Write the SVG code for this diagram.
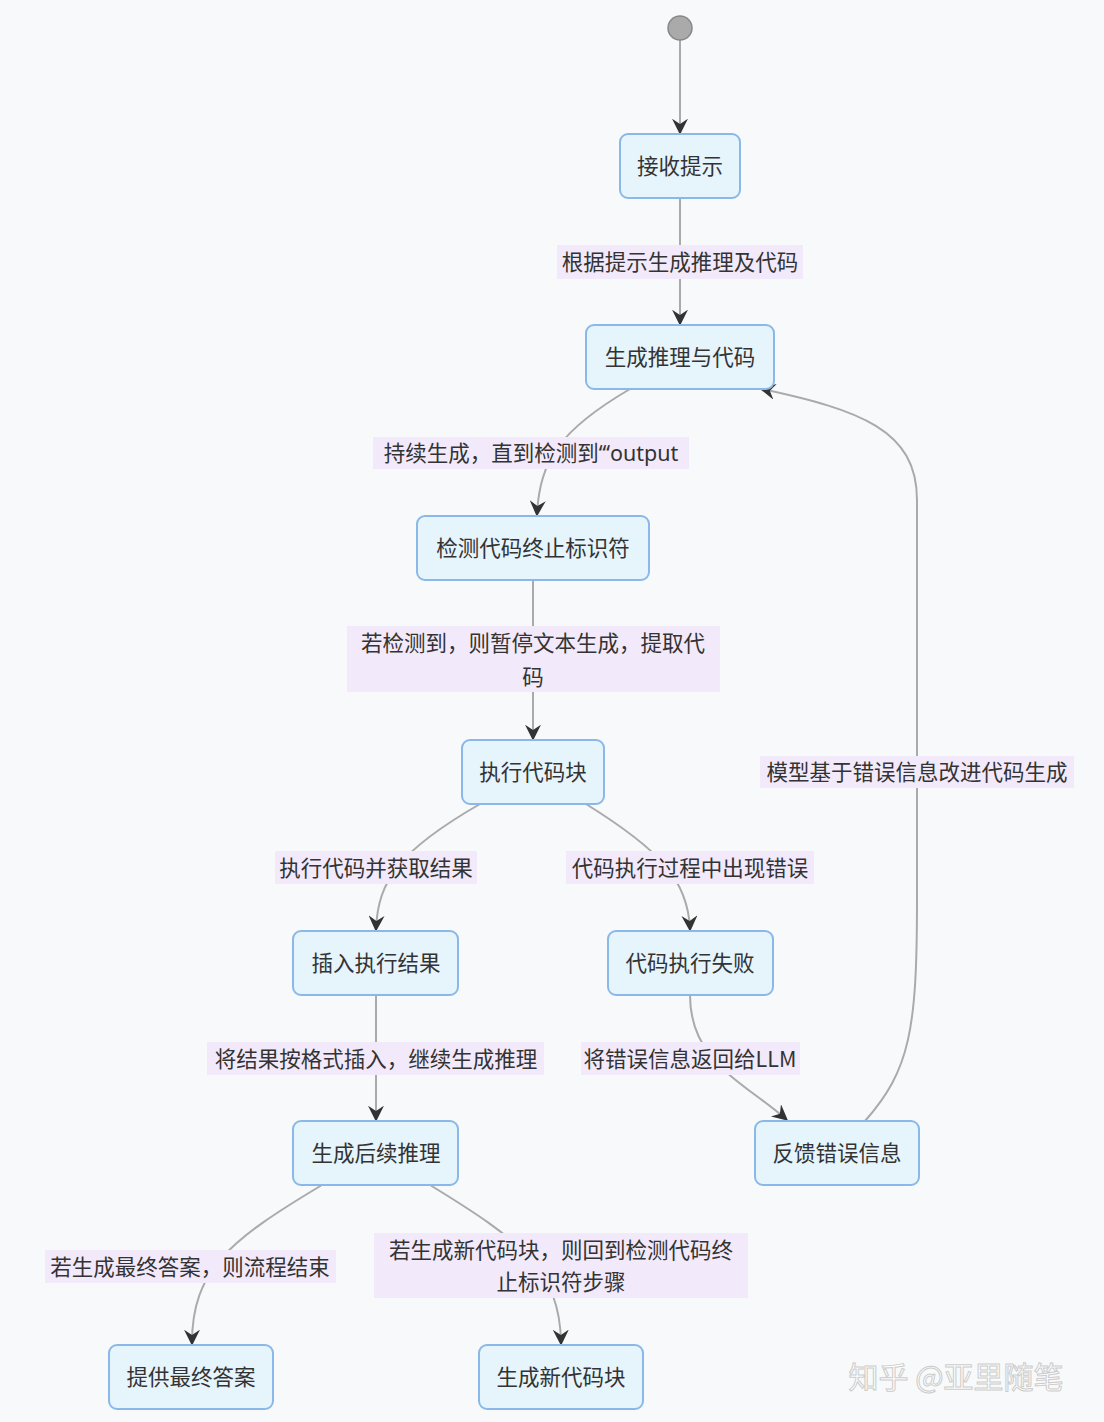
<svg xmlns="http://www.w3.org/2000/svg" width="1104" height="1422" viewBox="0 0 1104 1422">
<defs>
<style>
.n rect{fill:#e6f4fc;stroke:#8ab8e8;stroke-width:2}
text{font-family:"Noto Sans CJK SC","Noto Sans",sans-serif;font-size:21.5px;fill:#333;text-anchor:middle}
.lb{fill:#f2eafa}
.e{fill:none;stroke:#aaa;stroke-width:2;marker-end:url(#a)}
</style>
<marker id="a" viewBox="0 0 12 12" refX="10" refY="6" markerWidth="16" markerHeight="16" orient="auto" markerUnits="userSpaceOnUse"><path d="M0,0 L12,6 L0,12 L4,6 Z" fill="#333"/></marker>
</defs>
<rect width="1104" height="1422" fill="#f8f9fa"/>
<g id="edges">
<path class="e" d="M680,40 V132"/>
<path class="e" d="M680,198 V323"/>
<path class="e" d="M630,389 C560,430 540,460 537,514"/>
<path class="e" d="M533,580 V738"/>
<path class="e" d="M480,804 C400,850 378,880 376,929"/>
<path class="e" d="M586,804 C660,850 688,880 690,929"/>
<path class="e" d="M376,995 V1119"/>
<path class="e" d="M690,995 C690,1060 740,1080 786,1119"/>
<path class="e" d="M865,1121 C910,1070 917,1030 917,900 V500 C917,430 860,410 762,389"/>
<path class="e" d="M322,1185 C230,1240 192,1270 192,1343"/>
<path class="e" d="M430,1185 C520,1240 560,1270 561,1343"/>
</g>
<g id="labels">
<rect class="lb" x="557" y="245" width="246" height="34"/><text x="680" y="270">根据提示生成推理及代码</text>
<rect class="lb" x="373" y="437" width="316" height="32"/><text x="531" y="461">持续生成，直到检测到<tspan style="font-family:'Noto Sans',sans-serif">‘‘‘output</tspan></text>
<rect class="lb" x="347" y="626" width="373" height="66"/><text x="533" y="651">若检测到，则暂停文本生成，提取代</text><text x="533" y="685">码</text>
<rect class="lb" x="760" y="756" width="314" height="32"/><text x="917" y="780">模型基于错误信息改进代码生成</text>
<rect class="lb" x="275" y="851" width="202" height="33"/><text x="376" y="876">执行代码并获取结果</text>
<rect class="lb" x="566" y="851" width="248" height="33"/><text x="690" y="876">代码执行过程中出现错误</text>
<rect class="lb" x="207" y="1042" width="337" height="33"/><text x="376" y="1067">将结果按格式插入，继续生成推理</text>
<rect class="lb" x="581" y="1042" width="219" height="33"/><text x="690" y="1067">将错误信息返回给LLM</text>
<rect class="lb" x="45" y="1250" width="291" height="33"/><text x="190" y="1275">若生成最终答案，则流程结束</text>
<rect class="lb" x="374" y="1233" width="374" height="65"/><text x="561" y="1258">若生成新代码块，则回到检测代码终</text><text x="561" y="1290">止标识符步骤</text>
</g>
<g id="start"><circle cx="680" cy="28" r="12" fill="#aaa" stroke="#888" stroke-width="1.5"/></g>
<g id="n1" class="n"><rect x="620" y="134" width="120" height="64" rx="8"/><text x="680" y="174">接收提示</text></g>
<g id="n2" class="n"><rect x="586" y="325" width="188" height="64" rx="8"/><text x="680" y="365">生成推理与代码</text></g>
<g id="n3" class="n"><rect x="417" y="516" width="232" height="64" rx="8"/><text x="533" y="556">检测代码终止标识符</text></g>
<g id="n4" class="n"><rect x="462" y="740" width="142" height="64" rx="8"/><text x="533" y="780">执行代码块</text></g>
<g id="n5" class="n"><rect x="293" y="931" width="165" height="64" rx="8"/><text x="376" y="971">插入执行结果</text></g>
<g id="n6" class="n"><rect x="608" y="931" width="165" height="64" rx="8"/><text x="690" y="971">代码执行失败</text></g>
<g id="n7" class="n"><rect x="293" y="1121" width="165" height="64" rx="8"/><text x="376" y="1161">生成后续推理</text></g>
<g id="n8" class="n"><rect x="755" y="1121" width="164" height="64" rx="8"/><text x="837" y="1161">反馈错误信息</text></g>
<g id="n9" class="n"><rect x="109" y="1345" width="164" height="64" rx="8"/><text x="191" y="1385">提供最终答案</text></g>
<g id="n10" class="n"><rect x="479" y="1345" width="164" height="64" rx="8"/><text x="561" y="1385">生成新代码块</text></g>
<text x="956" y="1388" style="font-size:30px;fill:#fff;stroke:#ccc;stroke-width:1">知乎 @亚里随笔</text>
</svg>
